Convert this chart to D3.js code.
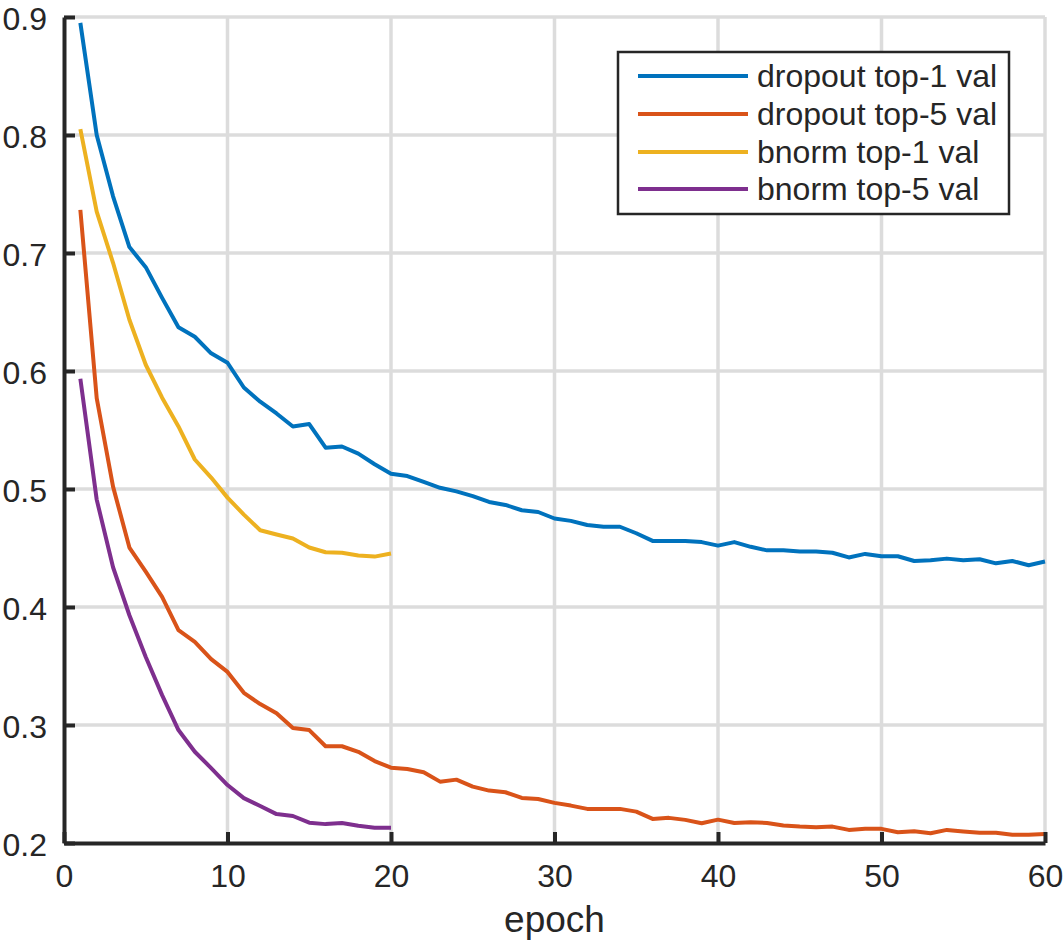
<!DOCTYPE html>
<html><head><meta charset="utf-8">
<script src="https://cdn.jsdelivr.net/npm/d3@7"></script>
<style>body{margin:0;background:#fff;}text{font-family:"Liberation Sans",Arial,Helvetica,sans-serif;fill:#262626;}</style>
</head><body>
<svg id="chart" width="1063" height="941"></svg>
<script>
const xTicks = [0,10,20,30,40,50,60];
const yTicks = [0.2,0.3,0.4,0.5,0.6,0.7,0.8,0.9];
const seriesNames = ["dropout top-1 val","dropout top-5 val","bnorm top-1 val","bnorm top-5 val"];
const seriesColors = ["#0072BD","#D95319","#EDB120","#7E2F8E"];
const dropoutTop1 = [0.895,0.800,0.748,0.705,0.688,0.662,0.637,0.629,0.615,0.607,0.586,0.574,0.564,0.553,0.555,0.535,0.536,0.530,0.521,0.513,
  0.511,0.506,0.501,0.498,0.494,0.489,0.4865,0.482,0.4805,0.475,0.473,0.4695,0.468,0.468,0.4625,0.456,0.456,0.456,0.455,0.452,
  0.455,0.451,0.448,0.448,0.447,0.447,0.446,0.442,0.445,0.443,0.443,0.439,0.4396,0.441,0.4396,0.4405,0.437,0.439,0.4354,0.4385];
const dropoutTop5 = [0.7366,0.577,0.502,0.4504,0.430,0.4086,0.3804,0.3705,0.3558,0.345,0.3273,0.3177,0.310,0.2974,0.2957,0.282,0.282,0.2773,0.2694,0.2638,
  0.2627,0.260,0.252,0.2537,0.2478,0.2444,0.243,0.2382,0.2373,0.234,0.2317,0.2289,0.2289,0.2289,0.2266,0.2204,0.2213,0.2196,0.2167,0.2198,
  0.217,0.2176,0.217,0.2148,0.2139,0.2134,0.2139,0.2111,0.212,0.212,0.2091,0.210,0.2083,0.2111,0.2097,0.2086,0.2086,0.2069,0.2069,0.2077];
const bnormTop1 = [0.805,0.735,0.6917,0.6434,0.6053,0.5774,0.553,0.525,0.5097,0.4927,0.4783,0.465,0.4614,0.458,0.4504,0.4464,0.446,0.4436,0.4427,0.4453];
const bnormTop5 = [0.5935,0.491,0.4337,0.393,0.3577,0.3253,0.2957,0.2773,0.2635,0.2491,0.238,0.2313,0.2245,0.2229,0.2172,0.216,0.2169,0.2146,0.213,0.213];
const allSeries = [dropoutTop1, dropoutTop5, bnormTop1, bnormTop5];

const svg = d3.select("#chart");
const x = d3.scaleLinear().domain([0,60]).range([64,1045]);
const y = d3.scaleLinear().domain([0.2,0.9]).range([843,17]);

// grid
const grid = svg.append("g");
grid.selectAll(".gx").data(xTicks.slice(1)).enter().append("line")
  .attr("x1",d=>x(d)).attr("x2",d=>x(d)).attr("y1",y(0.2)).attr("y2",y(0.9))
  .attr("stroke","#dcdcdc").attr("stroke-width",3.5);
grid.selectAll(".gy").data(yTicks.slice(1)).enter().append("line")
  .attr("x1",x(0)).attr("x2",x(60)).attr("y1",d=>y(d)).attr("y2",d=>y(d))
  .attr("stroke","#dcdcdc").attr("stroke-width",3.5);

// lines
const line = d3.line().x((d,i)=>x(i+1)).y(d=>y(d));
allSeries.forEach((s,k)=>{
  svg.append("path").datum(s).attr("d",line).attr("fill","none")
    .attr("stroke",seriesColors[k]).attr("stroke-width",4).attr("stroke-linejoin","round");
});

// axes
const xAxis = d3.axisBottom(x).tickValues(xTicks).tickSizeInner(-11).tickSizeOuter(0);
const yAxis = d3.axisLeft(y).tickValues(yTicks).tickSizeInner(-11).tickSizeOuter(0).tickFormat(d3.format(".1f"));
const gx = svg.append("g").attr("transform",`translate(0,${y(0.2)})`).call(xAxis);
const gy = svg.append("g").attr("transform",`translate(${x(0)},0)`).call(yAxis);
[gx,gy].forEach(g=>{
  g.select(".domain").attr("stroke","#262626").attr("stroke-width",4);
  g.selectAll(".tick line").attr("stroke","#262626").attr("stroke-width",4);
  g.selectAll(".tick text").attr("font-size",32).attr("fill","#262626")
    .attr("font-family","Liberation Sans, Arial, sans-serif");
});
gx.selectAll(".tick text").attr("dy","0.71em").attr("y",21);
gy.selectAll(".tick text").attr("x",-17).attr("dy","0.4em");

svg.append("text").attr("x",(x(0)+x(60))/2).attr("y",932).attr("text-anchor","middle")
  .attr("font-size",37).text("epoch");

// legend
const lg = svg.append("g");
lg.append("rect").attr("x",618).attr("y",52).attr("width",391).attr("height",162)
  .attr("fill","#fff").attr("stroke","#262626").attr("stroke-width",2.5);
const ly = [76,114,152,189];
seriesNames.forEach((n,k)=>{
  lg.append("line").attr("x1",638).attr("x2",748).attr("y1",ly[k]).attr("y2",ly[k])
    .attr("stroke",seriesColors[k]).attr("stroke-width",4);
  lg.append("text").attr("x",757).attr("y",ly[k]).attr("dy","0.35em").attr("font-size",32)
    .attr("fill","#000").text(n);
});
</script>
</body></html>
